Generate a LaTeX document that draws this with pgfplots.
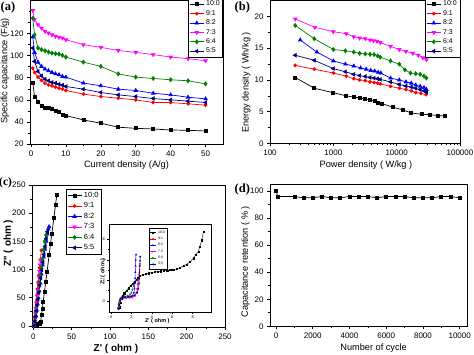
\documentclass[border=0pt]{standalone}
\usepackage{pgfplots}
\pgfplotsset{compat=1.18}
\usepackage{fontspec}
\setmainfont{Liberation Sans}
\newfontfamily\serifb{Liberation Serif}
\definecolor{navy5}{RGB}{0,0,128}
\definecolor{green5}{RGB}{0,128,0}
\definecolor{mag5}{RGB}{255,0,255}
\pgfplotsset{
 panel/.style={
  scale only axis, anchor=south west,
  axis line style={line width=0.7pt, black},
  tick pos=left, tick align=outside,
  major tick length=3pt, minor tick length=1.6pt,
  every tick/.style={black, line width=0.6pt},
  tick label style={font=\fontsize{8}{9}\selectfont},
  label style={font=\fontsize{9.2}{10}\selectfont},
  /pgf/number format/assume math mode=true,
  /pgf/number format/1000 sep={},
  scaled ticks=false,
  legend cell align=left,
  every axis plot/.append style={line width=0.7pt},
 },
 s10/.style={black, mark=square*, mark size=1.5pt},
 s91/.style={red, mark=*, mark size=1.5pt},
 s82/.style={blue, mark=triangle*, mark size=2pt},
 s73/.style={mag5, mark=triangle*, mark options={rotate=180}, mark size=2pt},
 s64/.style={green5, mark=diamond*, mark size=2pt},
 s55/.style={navy5, mark=triangle*, mark options={rotate=90}, mark size=2pt},
 biglegend/.style={legend style={font=\fontsize{7}{7}\selectfont, draw=black, line width=0.5pt,
   inner sep=1pt, row sep=-1pt, fill=white}},
}
\pgfplotsset{legend image code/.code={\draw[mark repeat=2, mark phase=2, #1] plot coordinates {(0pt,0pt) (7pt,0pt) (14pt,0pt)};}}
\begin{document}
\begin{tikzpicture}[x=1pt,y=1pt]
\useasboundingbox (0,0) rectangle (474,355);
\clip (0,0) rectangle (474,355);
% ---------------- (a)
\begin{axis}[panel, biglegend, at={(30pt,211pt)}, width=193pt, height=144pt,
  xmin=-0.3, xmax=55, ymin=20, ymax=150.5,
  xtick={0,10,...,50}, ytick={20,40,...,140}, minor x tick num=1, minor y tick num=1,
  xlabel={Current density (A/g)}, ylabel={Specific capacitance (F/g)},
  xlabel style={at={(axis description cs:0.5,-0.146)}, anchor=center},
  ylabel style={at={(axis description cs:-0.13,0.507)}, anchor=center},
  legend style={at={(rel axis cs:1,1.015)}, anchor=north east}]
\addplot[s10] coordinates {(0.5,75.8)(1,63)(2,58.5)(3,54.5)(4,53)(5,52.4)(6,51.5)(7,50.3)(8,48.8)(9,46.7)(10,45.8)(15,41.8)(20,38.8)(25,35.2)(30,34.2)(35,33.6)(40,32.7)(45,32.4)(50,31.8)};
\addplot[s91] coordinates {(0.5,88.8)(1,84.8)(2,80.6)(3,77.6)(4,75.2)(5,73.6)(6,72.7)(7,71.5)(8,70.6)(9,69.7)(10,68.5)(15,65.2)(20,63)(25,61.5)(30,60)(35,57.6)(40,57.6)(45,56.4)(50,55.2)};
\addplot[s82] coordinates {(0.5,117)(1,103)(2,94)(3,90.3)(4,87.9)(5,86.4)(6,84.8)(7,83.6)(8,82.7)(9,81.2)(10,80.6)(15,75.2)(20,72.7)(25,69.7)(30,68.5)(35,66)(40,64.5)(45,62.4)(50,60.9)};
\addplot[s73] coordinates {(0.5,141)(1,132.7)(2,128)(3,125)(4,122)(5,120.6)(6,119)(7,117.6)(8,116.7)(9,116)(10,114.5)(15,110)(20,107.6)(25,104.8)(30,103)(35,101)(40,98.8)(45,97.3)(50,95.5)};
\addplot[s64] coordinates {(0.5,134)(1,119)(2,107)(3,105.5)(4,104.5)(5,103.3)(6,102.4)(7,101.8)(8,101.5)(9,100.3)(10,98.8)(15,94.2)(20,90.3)(25,83.6)(30,80.6)(35,79.4)(40,78.2)(45,77.3)(50,74.5)};
\addplot[s55] coordinates {(0.5,107)(1,94.8)(2,85.8)(3,81.8)(4,78.8)(5,77.3)(6,75.8)(7,75.2)(8,74.2)(9,73.3)(10,72.1)(15,69.7)(20,66.7)(25,64.5)(30,63)(35,61.2)(40,60)(45,58.8)(50,57.6)};
\legend{10:0,9:1,8:2,7:3,6:4,5:5}
\end{axis}
% ---------------- (b)
\begin{axis}[panel, biglegend, xmode=log, at={(270pt,211.5pt)}, width=190pt, height=143.5pt,
  xmin=100, xmax=100000, ymin=0, ymax=22.6,
  xtick={100,1000,10000,100000}, ytick={0,5,...,20}, minor y tick num=1,
  log ticks with fixed point,
  xlabel={Power density ( W/kg )}, ylabel={Energy density ( Wh/kg )},
  xlabel style={at={(axis description cs:0.505,-0.15)}, anchor=center},
  ylabel style={at={(axis description cs:-0.125,0.425)}, anchor=center},
  legend style={at={(rel axis cs:1,1.015)}, anchor=north east}]
\addplot[s10] coordinates {(250,10.4)(500,8.7)(1000,8.0)(1600,7.5)(2100,7.3)(2600,7.2)(3200,7.0)(3800,6.9)(4500,6.7)(5100,6.4)(5800,6.3)(8800,5.7)(12500,5.3)(17000,4.8)(25000,4.6)(33000,4.55)(45000,4.4)(57000,4.35)};
\addplot[s91] coordinates {(250,12.3)(500,11.7)(1000,11.1)(1600,10.6)(2100,10.2)(2600,10.0)(3200,9.9)(3800,9.7)(4400,9.6)(5000,9.5)(5500,9.4)(8000,9.0)(11000,8.7)(14000,8.5)(17000,8.3)(20000,8.0)(24000,7.9)(29000,7.7)};
\addplot[s82] coordinates {(300,16.3)(550,14.4)(1000,13.0)(1550,12.5)(2100,12.2)(2700,11.9)(3300,11.7)(3900,11.5)(4500,11.4)(5100,11.2)(5600,11.1)(8000,10.3)(11000,10.0)(14000,9.7)(17000,9.5)(20000,9.2)(23500,9.0)(27000,8.8)(29500,8.5)};
\addplot[s73] coordinates {(250,19.6)(510,18.3)(1000,17.6)(1600,17.3)(2100,16.8)(2600,16.6)(3200,16.5)(3800,16.3)(4300,16.2)(4900,16.1)(5500,15.9)(8000,15.3)(11000,14.8)(14000,14.5)(18000,14.2)(22000,13.9)(26000,13.5)(29500,13.2)};
\addplot[s64] coordinates {(250,18.6)(500,16.5)(1000,14.8)(1550,14.6)(2100,14.4)(2600,14.2)(3200,14.1)(3800,14.05)(4400,14.0)(5000,13.8)(5500,13.6)(8000,13.0)(11000,12.5)(13500,11.6)(16500,11.1)(20000,11.0)(23500,10.9)(27000,10.6)(29500,10.3)};
\addplot[s55] coordinates {(250,13.9)(500,13.1)(1000,11.8)(1550,11.3)(2100,10.9)(2600,10.7)(3200,10.55)(3800,10.4)(4400,10.3)(5000,10.2)(5500,10.1)(8000,9.7)(11000,9.3)(14000,9.05)(17000,8.9)(20000,8.7)(23500,8.5)(27000,8.3)(29500,8.1)};
\legend{10:0,9:1,8:2,7:3,6:4,5:5}
\end{axis}
% ---------------- (c)
\begin{axis}[panel, at={(32pt,28pt)}, width=193pt, height=142pt,
  xmin=-1.7, xmax=250, ymin=-2, ymax=250,
  xtick={0,50,...,250}, ytick={0,50,...,250}, minor x tick num=1, minor y tick num=1,
  label style={font=\fontsize{10}{11}\selectfont\bfseries},
  xlabel={Z\textquotesingle{} ( ohm )}, ylabel={Z\textquotesingle\textquotesingle{} ( ohm )},
  xlabel style={at={(axis description cs:0.435,-0.155)}, anchor=center},
  ylabel style={at={(axis description cs:-0.123,0.59)}, anchor=center},
  legend style={at={(axis description cs:0.176,0.972)}, anchor=north west,
   font=\fontsize{7.5}{8}\selectfont, draw=black, line width=0.5pt, inner sep=1pt, row sep=-0.3pt}]
\addplot[s10] coordinates {(1,0)(2,1)(3,1.5)(4,2)(5,2.5)(6,2.8)(7,3)(8,3.5)(9,5)(9.6,7.7)(10.8,20)(11.8,31)(12.9,43)(14.6,61)(16.3,79)(17.9,96)(20.7,126)(22.5,146)(24.2,164)(26.8,191)(28.9,214)(30.6,232)};
\addplot[s91] coordinates {(1,0)(1.5,5)(2,10)(2.5,17)(3,25)(3.5,33)(4.2,43)(5,55)(5.8,66)(6.5,78)(7.3,90)(8.2,103)(9.2,117)(10.5,134)};
\addplot[s82] coordinates {(1.5,0)(2.5,8)(3.5,18)(4.5,28)(5.5,39)(6.5,50)(7.7,62)(9,76)(10.5,92)(12,108)(13.5,122)(15,136)(16.7,150)(18.2,163)(19.5,172)(20.6,176)};
\addplot[s73] coordinates {(1,0)(1.6,6)(2.2,13)(2.8,21)(3.5,30)(4.2,40)(5,52)(5.8,63)(6.6,75)(7.3,87)(8,97)(8.8,108)(9.5,117)};
\addplot[s64] coordinates {(1,0)(1.8,7)(2.6,15)(3.5,25)(4.5,36)(5.5,48)(6.5,60)(7.7,74)(9,89)(10.3,104)(11.7,119)(13.2,135)(14.8,150)(16.5,161)};
\addplot[s55] coordinates {(1,0)(2,8)(3,17)(4,27)(5,37)(6,47)(7.2,59)(8.5,72)(9.8,85)(11.2,99)(12.6,113)(14,127)(15.5,141)(17,155)(18.5,167)};
\legend{10:0,9:1,8:2,7:3,6:4,5:5}
\end{axis}
% ---------------- (c) inset
\begin{axis}[panel, at={(109pt,43pt)}, width=102.7pt, height=87.7pt,
  axis background/.style={fill=white},
  axis line style={line width=0.5pt, black},
  xmin=-0.2, xmax=9.87, ymin=-1.07, ymax=7.45,
  xtick={0,2,4,6,8}, ytick={0,2,4,6}, minor x tick num=1, minor y tick num=1,
  major tick length=1.6pt, minor tick length=0.9pt, every tick/.style={black, line width=0.4pt},
  tick label style={font=\fontsize{4}{4}\selectfont}, xticklabel style={yshift=1pt}, yticklabel style={xshift=1pt},
  label style={font=\fontsize{5.5}{6}\selectfont\bfseries},
  xlabel={Z\textquotesingle{} ( ohm )}, ylabel={Z\textquotesingle\textquotesingle{} ( ohm )},
  xlabel style={at={(axis description cs:0.47,-0.105)}, anchor=center},
  ylabel style={at={(axis description cs:-0.06,0.46)}, anchor=center},
  every axis plot/.append style={line width=0.4pt},
  s10/.style={black, mark=square*, mark size=0.6pt},
  s91/.style={red, mark=*, mark size=0.6pt},
  s82/.style={blue, mark=triangle*, mark size=0.8pt},
  s73/.style={mag5, mark=triangle*, mark options={rotate=180}, mark size=0.8pt},
  s64/.style={green5, mark=diamond*, mark size=0.8pt},
  s55/.style={navy5, mark=triangle*, mark options={rotate=90}, mark size=0.8pt},
  legend image code/.code={\draw[mark repeat=2, mark phase=2, #1] plot coordinates {(0pt,0pt) (3pt,0pt) (6pt,0pt)};},
  legend style={at={(axis description cs:0.39,0.958)}, anchor=north west,
   font=\fontsize{3.5}{3.5}\selectfont, draw=black, line width=0.3pt, inner sep=0.5pt, row sep=-1.6pt}]
\addplot[s10] coordinates {(0.85,-0.6)(0.9,-0.2)(1.0,0.2)(1.15,0.5)(1.3,0.75)(1.5,1.0)(1.7,1.25)(1.9,1.45)(2.1,1.7)(2.3,1.9)(2.5,2.1)(2.65,2.3)(2.8,2.45)(3.1,2.55)(3.4,2.63)(3.7,2.7)(4.0,2.76)(4.3,2.81)(4.6,2.86)(4.9,2.9)(5.2,2.93)(5.5,2.96)(5.8,3.0)(6.1,3.05)(6.4,3.1)(6.76,3.23)(7.1,3.4)(7.4,3.56)(7.75,3.8)(8.07,4.15)(8.3,4.47)(8.56,4.8)(8.7,5.3)(8.9,5.9)(9.05,6.7)};
\addplot[s91] coordinates {(0.75,-0.6)(0.8,-0.2)(0.9,0.15)(1.1,0.3)(1.4,0.35)(1.7,0.38)(2.0,0.4)(2.3,0.5)(2.5,0.75)(2.6,1.1)(2.65,1.6)(2.7,2.1)(2.75,2.6)(2.8,3.1)(2.85,3.6)};
\addplot[s82] coordinates {(0.7,-0.7)(0.75,-0.3)(0.85,0.1)(1.0,0.3)(1.3,0.35)(1.6,0.36)(1.9,0.4)(2.1,0.5)(2.25,0.8)(2.3,1.2)(2.33,1.7)(2.36,2.2)(2.38,2.8)(2.4,3.4)(2.42,4.0)(2.45,4.5)};
\addplot[s73] coordinates {(0.8,-0.5)(0.85,-0.1)(0.95,0.15)(1.2,0.25)(1.5,0.28)(1.8,0.3)(2.1,0.35)(2.35,0.5)(2.5,0.8)(2.55,1.2)(2.6,1.6)(2.65,2.0)};
\addplot[s64] coordinates {(0.7,-0.6)(0.75,-0.2)(0.85,0.15)(1.0,0.35)(1.3,0.45)(1.6,0.5)(1.85,0.6)(2.0,0.8)(2.1,1.1)(2.2,1.5)};
\addplot[s55] coordinates {(0.75,-0.8)(0.8,-0.4)(0.9,0.05)(1.1,0.3)(1.4,0.38)(1.7,0.42)(2.0,0.45)(2.3,0.55)(2.55,0.8)(2.7,1.2)(2.75,1.7)(2.78,2.2)(2.8,2.8)(2.82,3.4)(2.84,3.9)(2.86,4.3)};
\legend{10:0,9:1,8:2,7:3,6:4,5:5}
\end{axis}
% ---------------- (d)
\begin{axis}[panel, at={(270pt,28.7pt)}, width=197pt, height=142pt,
  xmin=-327, xmax=10398, ymin=0, ymax=105,
  xtick={0,2000,...,10000}, ytick={0,20,...,100}, minor x tick num=1, minor y tick num=1,
  xlabel={Number of cycle}, ylabel={Capacitance retention ( \% )},
  xlabel style={at={(axis description cs:0.526,-0.155)}, anchor=center},
  ylabel style={at={(axis description cs:-0.125,0.455)}, anchor=center}]
\addplot[s10] coordinates {(0,100)(100,96)(1000,96)(1500,95)(2000,95)(2500,96)(3000,95)(3500,95)(4000,96)(4500,96)(5000,96)(5500,95)(6000,96)(6500,96)(7000,96)(7500,95)(8000,95)(8500,95)(9000,96)(9500,96)(10000,95)};
\end{axis}
% panel letters
\fill[white] (0,339) rectangle (28.5,355);
\node[anchor=north west, inner sep=0pt, font=\serifb\bfseries\fontsize{12.5}{13}\selectfont] at (0.5,353) {(a)};
\node[anchor=north west, inner sep=0pt, font=\serifb\bfseries\fontsize{12.5}{13}\selectfont] at (234.5,353) {(b)};
\node[anchor=north west, inner sep=0pt, font=\serifb\bfseries\fontsize{11.5}{12}\selectfont] at (-1,178) {(c)};
\node[anchor=north west, inner sep=0pt, font=\serifb\bfseries\fontsize{12.5}{13}\selectfont] at (234.5,171) {(d)};
\end{tikzpicture}
\end{document}
